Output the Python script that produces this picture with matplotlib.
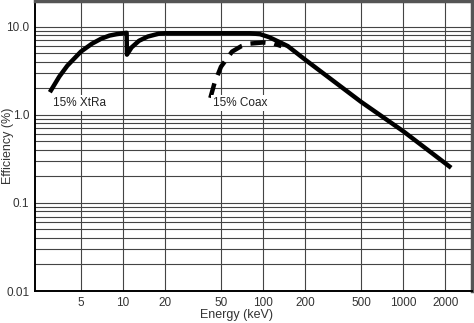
import matplotlib
matplotlib.use("Agg")
import matplotlib.pyplot as plt
from matplotlib.ticker import FixedLocator, NullLocator, NullFormatter, LogLocator

plt.rcParams['font.family'] = ['Liberation Sans', 'DejaVu Sans']

# Data
xtra_energy = [3.0, 3.5, 4.0, 5.0, 6.0, 7.0, 8.0, 9.0, 10.0, 10.6, 10.65, 11.5, 13, 15, 18, 20, 30, 50, 80, 95, 110, 130, 150, 200, 500, 1000, 2200]
xtra_eff = [1.8, 2.7, 3.6, 5.2, 6.4, 7.3, 7.9, 8.2, 8.4, 8.5, 4.8, 5.8, 6.9, 7.7, 8.3, 8.4, 8.4, 8.4, 8.4, 8.2, 7.6, 6.7, 6.0, 4.2, 1.4, 0.65, 0.25]
coax_energy = [42, 45, 50, 60, 70, 80, 100, 120, 135]
coax_eff = [1.55, 2.3, 3.5, 5.2, 6.0, 6.4, 6.6, 6.4, 6.0]
x_ticks = [5, 10, 20, 50, 100, 200, 500, 1000, 2000]
x_labels = ["5", "10", "20", "50", "100", "200", "500", "1000", "2000"]
y_ticks = [0.01, 0.1, 1.0, 10.0]
y_labels = ["0.01", "0.1", "1.0", "10.0"]

fig = plt.figure(figsize=(4.74, 3.23), dpi=100)
ax = fig.add_axes([35/474, 32/323, 437/474, 290/323])
ax.set_xscale("log")
ax.set_yscale("log")
ax.set_xlim(2.35, 3100)
ax.set_ylim(0.01, 19.5)

ax.xaxis.set_major_locator(FixedLocator(x_ticks))
ax.set_xticklabels(x_labels)
ax.xaxis.set_minor_locator(NullLocator())
ax.yaxis.set_major_locator(FixedLocator(y_ticks))
ax.set_yticklabels(y_labels)
ax.yaxis.set_minor_locator(LogLocator(base=10, subs=range(2, 10)))
ax.yaxis.set_minor_formatter(NullFormatter())
ax.tick_params(axis="both", which="both", length=0, labelsize=8.5, colors="#333333", pad=4)

ax.grid(True, which="major", axis="x", color="#444444", linewidth=0.8)
ax.grid(True, which="both", axis="y", color="#444444", linewidth=0.8)
ax.set_axisbelow(True)

for s in ["left", "bottom"]:
    ax.spines[s].set_linewidth(1.4)
    ax.spines[s].set_color("black")
for s in ["top", "right"]:
    ax.spines[s].set_linewidth(2.5)
    ax.spines[s].set_color("#555555")

ax.plot(xtra_energy, xtra_eff, color="black", linewidth=3.2, solid_capstyle="butt", solid_joinstyle="round", zorder=3)
ax.plot(coax_energy, coax_eff, color="black", linewidth=3.2, linestyle=(0, (3.4, 2.0)), dash_capstyle="butt", zorder=3)

bbox = dict(facecolor="white", edgecolor="none", pad=1.5)
ax.text(4.9, 1.36, "15% XtRa", fontsize=8.5, color="#222222", ha="center", va="center", bbox=bbox, zorder=4)
ax.text(69, 1.36, "15% Coax", fontsize=8.5, color="#222222", ha="center", va="center", bbox=bbox, zorder=4)

ax.set_xlabel("Energy (keV)", fontsize=9, color="#333333")
ax.xaxis.set_label_coords(0.46, -0.062)
ax.set_ylabel("Efficiency (%)", fontsize=9, color="#333333")
ax.yaxis.set_label_coords(-0.048, 0.5)

fig.savefig("out.png", dpi=100)
